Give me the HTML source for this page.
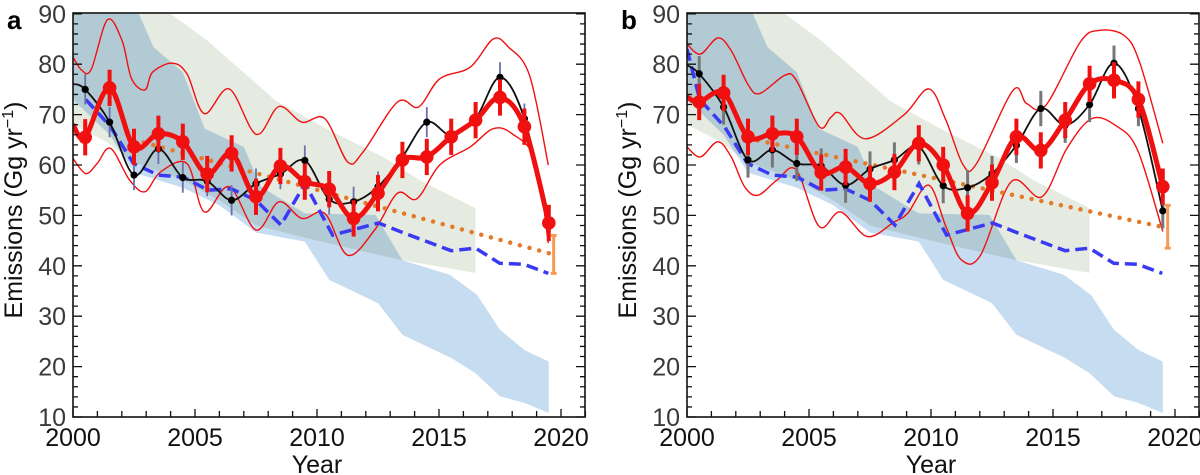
<!DOCTYPE html>
<html><head><meta charset="utf-8">
<style>
html,body{margin:0;padding:0;background:#fff;}
svg{display:block;font-family:"Liberation Sans",Arial,sans-serif;}
</style></head>
<body>
<svg id="chart" width="1200" height="475" viewBox="0 0 1200 475" xmlns="http://www.w3.org/2000/svg">
<defs>
<clipPath id="clipA"><rect x="73" y="13" width="512" height="404"/></clipPath>
<clipPath id="clipB"><rect x="687" y="13" width="512" height="404"/></clipPath>
</defs>
</svg>
<script>
// ---- shared data ----
const markerYears = [0.5,1.5,2.5,3.5,4.5,5.5,6.5,7.5,8.5,9.5,10.5,11.5,12.5,13.5,14.5,15.5,16.5,17.5,18.5,19.5];
const yTicks = [10,20,30,40,50,60,70,80,90];
const xTicks = [2000,2005,2010,2015,2020];
const blueDashYears = [0.52,1.54,2.48,3.5,4.52,5.54,6.48,7.5,8.52,9.51,10.64,12.52,13.62,15.5,16.5,17.49,18.48,19.48];
const blueDashVals  = [73,67.6,60.3,58,57.6,55,55.3,53,48.1,56.3,46.1,48.5,46.4,43,43.5,40.5,40.3,38.5];
const greenBandYears = [0,4.0,5.5,8.3,10.5,12.7,14.2,16.5,16.5,13.5,10,7.5,6,4.5,2.5,1.3,0];
const greenBandVals  = [90,90,84.7,72.8,66.9,61.6,57,51.4,38.6,41.1,45,48,53,57,60.5,64.8,68];
const blueBandYears = [0,2.7,3.3,4.5,5.4,7,7.7,9.5,12.4,13.5,15.45,16.56,17.5,18.5,19.5,19.5,18.5,17.5,16.5,15.5,13.5,12.5,10.5,9.5,7.5,6,4.5,2.5,1.5,0];
const blueBandVals  = [90,90,83.4,78.4,67.2,63.6,55.7,50.4,50.1,41.1,38.2,34.2,27.3,23.3,21,10.8,12.8,14.1,18.7,21.7,26.3,32.6,37.2,44.8,46.6,52,55.5,58.5,66,73];

// ---- panel a data ----
const aRedStart = 68;
const aRed = [65.5,75.3,63.6,66.2,64.6,58.2,62.3,53.7,59.8,56.7,55.2,49.4,54.4,61,61.6,65.6,68.9,73.4,67.6,48.5];
const aBlackStart = 76.1;
const aBlack = [75,68.5,58,63.2,57.5,56.8,53,56.3,58.2,60.9,53.2,52.7,55.7,61.6,68.5,65.9,69.2,77.4,69.2,48.5];
const aUpYears = [0,0.36,0.75,1.41,2.01,2.4,2.95,3.26,4.05,4.67,5.38,6.4,7.51,8.44,9.38,10.32,11.26,11.89,13.3,14.16,15.03,16.28,17.22,17.85,18.71,19.48];
const aUpVals  = [81.4,78.8,79,88.8,84.7,77.1,74.9,78.4,80.2,78.1,70.2,75.1,66.1,71.6,68.5,69.2,60.6,62.6,72.5,71.5,77.1,79.4,85,83.4,77.8,60];
const aLoYears = [0,0.52,0.99,1.54,2.32,2.95,3.58,4.67,5.38,6.4,7.5,8.44,9.38,10.32,11.26,12.36,13.3,14.09,15.03,16.28,17.22,18.0,18.95,19.48];
const aLoVals  = [61.3,58.3,60.3,63.3,57,54.7,58.6,60.3,50.7,55.7,47.1,52.7,49.4,50.4,42.1,47.1,54.4,53.3,60,63.6,67.2,66.2,60.9,44.5];
const aOrange = [[2.5,65],[19.5,42.5]];
const aOrangeErr = [19.7,38.5,46];

// ---- panel b data ----
const bRedStart = 73.5;
const bRed = [72.5,74.3,65.6,66.2,65.6,58.5,59.6,56.3,58.6,64.3,60,50.4,56.5,65.6,62.9,68.9,76.1,76.8,73,55.7];
const bBlackStart = 79.8;
const bBlack = [78.1,71.5,61,63,60.3,59.8,56,59.2,61,63.6,55.9,55.5,58.3,63.9,71.2,67.9,72,80.2,71.2,50.9];
const bUpYears = [0,0.55,1.26,1.81,2.52,2.99,4.01,4.48,5.42,5.9,6.29,7.31,8.88,9.91,10.61,11.32,11.87,13.36,13.92,14.7,16.12,16.9,17.92,18.55,19.5];
const bUpVals  = [84,82,85.2,82.7,75.8,74.2,77.8,76.8,67.6,69.5,70.2,65.2,69.9,75.1,68.9,60,60.3,74.8,72.2,71.8,84.4,86.7,85.7,80.4,64.3];
const bLoYears = [0,0.55,1.26,1.81,2.36,2.91,3.69,4.48,5.42,6.29,7.39,8.49,9.04,9.91,10.61,11.24,12.03,13.29,14.54,15.57,16.59,17.61,18.47,19.5];
const bLoVals  = [63.6,61.6,64.6,61.6,55.7,54,57,59,47.8,50.7,45.8,48.7,50.4,56,47.8,41.2,42.1,56.7,53.7,63.3,69.2,67.7,62.9,46.8];
const bOrange = [[2.5,65.3],[19.5,47.7]];
const bOrangeErr = [19.7,43.5,52];

const NS = "http://www.w3.org/2000/svg";
const svg = document.getElementById('chart');
function el(tag, attrs, parent){
  const e = document.createElementNS(NS, tag);
  for (const k in attrs) e.setAttribute(k, attrs[k]);
  (parent||svg).appendChild(e);
  return e;
}
function smooth(pts){
  let d = "M"+pts[0][0].toFixed(1)+","+pts[0][1].toFixed(1);
  for (let i=0;i<pts.length-1;i++){
    const p0=pts[Math.max(i-1,0)], p1=pts[i], p2=pts[i+1], p3=pts[Math.min(i+2,pts.length-1)];
    const c1x=p1[0]+(p2[0]-p0[0])/6, c1y=p1[1]+(p2[1]-p0[1])/6;
    const c2x=p2[0]-(p3[0]-p1[0])/6, c2y=p2[1]-(p3[1]-p1[1])/6;
    d+=" C"+c1x.toFixed(1)+","+c1y.toFixed(1)+" "+c2x.toFixed(1)+","+c2y.toFixed(1)+" "+p2[0].toFixed(1)+","+p2[1].toFixed(1);
  }
  return d;
}
function poly(pts){ return "M"+pts.map(p=>p[0].toFixed(1)+","+p[1].toFixed(1)).join(" L"); }

function panel(cfg){
  const x0 = cfg.x0, top = 13, bottom = 417, right = x0+512;
  const X = yr => x0 + yr*24.4;
  const Y = v => bottom - (v-10)*5.04;
  const g = el('g', {});
  
  
  const plot = el('g', {'clip-path':'url(#'+cfg.clip+')'}, g);
  
  

  const bb = el('path', {d: poly(blueBandYears.map((t,i)=>[X(t),Y(blueBandVals[i])]))+"Z", fill:'#c6dcf0'}, plot);
  
  
  const gb = el('path', {d: poly(greenBandYears.map((t,i)=>[X(t),Y(greenBandVals[i])]))+"Z", fill:'#e6ebe2', style:'mix-blend-mode:multiply'}, plot);
  
  

  const up = el('path', {d: smooth(cfg.upY.map((t,i)=>[X(t),Y(cfg.upV[i])])), fill:'none', stroke:'#f01010', 'stroke-width':1.4}, plot);
  
  
  const lo = el('path', {d: smooth(cfg.loY.map((t,i)=>[X(t),Y(cfg.loV[i])])), fill:'none', stroke:'#f01010', 'stroke-width':1.4}, plot);
  
  

  const od = el('path', {d: poly(cfg.orange.map(p=>[X(p[0]),Y(p[1])])), fill:'none', stroke:'#e5792a', 'stroke-width':4.5, 'stroke-linecap':'round', 'stroke-dasharray':'0 10'}, plot);
  
  

  const pre = cfg.blueStart ? cfg.blueStart.map(p=>[X(p[0]),Y(p[1])]) : [];
  const bd = el('path', {d: poly(pre.concat(blueDashYears.map((t,i)=>[X(t),Y(blueDashVals[i])]))), fill:'none', stroke:'#3a3af2', 'stroke-width':3.5, 'stroke-dasharray':'12 6'}, plot);
  
  

  const bpts = [[X(0),Y(cfg.blackStart)]].concat(markerYears.map((t,i)=>[X(t),Y(cfg.black[i])]));
  markerYears.forEach((t,i)=>{
    const e = el('line', {x1:X(t), x2:X(t), y1:Y(cfg.black[i]-cfg.bErr), y2:Y(cfg.black[i]+cfg.bErr), stroke:cfg.bErrColor, 'stroke-width':cfg.bErrW}, plot);
    
    
  });
  const bl = el('path', {d: smooth(bpts), fill:'none', stroke:'#111', 'stroke-width':1.8}, plot);
  
  
  markerYears.forEach((t,i)=>{
    const c = el('circle', {cx:X(t), cy:Y(cfg.black[i]), r:3.6, fill:'#000'}, plot);
    
    
  });

  const rpts = [[X(0),Y(cfg.redStart)]].concat(markerYears.map((t,i)=>[X(t),Y(cfg.red[i])]));
  const rl = el('path', {d: smooth(rpts), fill:'none', stroke:'#f01010', 'stroke-width':5, 'stroke-linejoin':'round'}, plot);
  
  
  markerYears.forEach((t,i)=>{
    const e = el('line', {x1:X(t), x2:X(t), y1:Y(cfg.red[i]-3.6), y2:Y(cfg.red[i]+3.6), stroke:'#f01010', 'stroke-width':4}, plot);
    
    
    const c = el('circle', {cx:X(t), cy:Y(cfg.red[i]), r:6.8, fill:'#f01010'}, plot);
    
    
  });

  const oe = cfg.orangeErr;
  const og = el('path', {d:"M"+(X(oe[0])-3)+","+Y(oe[1])+" h6 M"+X(oe[0])+","+Y(oe[1])+" V"+Y(oe[2])+" M"+(X(oe[0])-3)+","+Y(oe[2])+" h6", stroke:'#f49a55', 'stroke-width':3, fill:'none'}, g);
  
  

  const fr = el('rect', {x:x0, y:top, width:512, height:bottom-top, fill:'none', stroke:'#111', 'stroke-width':1.6}, g);
  
  

  let td = "";
  for (let v=10; v<=90; v+=2){
    const len = (v%10===0)?9:5;
    td += "M"+x0+","+Y(v)+" h"+len+" M"+right+","+Y(v)+" h-"+len+" ";
  }
  for (let yr=0; yr<=21; yr++){
    td += "M"+X(yr)+","+bottom+" v-"+((yr%5===0)?8:6)+" ";
  }
  const tk = el('path', {d:td, stroke:'#111', 'stroke-width':1.3, fill:'none'}, g);
  
  

  yTicks.forEach(v=>{
    const t = el('text', {x:x0-7, y:Y(v)+9, 'text-anchor':'end', 'font-size':25, fill:'#3a3a3a'}, g);
    t.textContent = v;
    
    
  });
  xTicks.forEach(yr=>{
    const t = el('text', {x:X(yr-2000), y:446, 'text-anchor':'middle', 'font-size':25, fill:'#111'}, g);
    t.textContent = yr;
    
    
  });
  const xt = el('text', {x:X(10), y:473, 'text-anchor':'middle', 'font-size':25, fill:'#111'}, g);
  xt.textContent = 'Year';
  
  
  const yt = el('text', {x:0, y:0, 'text-anchor':'middle', 'font-size':25, fill:'#111', transform:'translate('+(x0-51)+','+((top+bottom)/2-5)+') rotate(-90)'}, g);
  yt.innerHTML = 'Emissions (Gg yr<tspan dy="-9" font-size="16">−1</tspan><tspan dy="9">)</tspan>';
  
  
  const pl = el('text', {x:x0-66, y:29, 'font-size':26, 'font-weight':'bold', fill:'#000'}, g);
  pl.textContent = cfg.label;
  
  
}

panel({name:'panel-a', label:'a', x0:73, clip:'clipA', redStart:aRedStart, red:aRed, blackStart:aBlackStart, black:aBlack,
  upY:aUpYears, upV:aUpVals, loY:aLoYears, loV:aLoVals, orange:aOrange, orangeErr:aOrangeErr,
  bErr:3, bErrColor:'#6a70aa', bErrW:1.8, blueStart:null});
panel({name:'panel-b', label:'b', x0:687, clip:'clipB', redStart:bRedStart, red:bRed, blackStart:bBlackStart, black:bBlack,
  upY:bUpYears, upV:bUpVals, loY:bLoYears, loV:bLoVals, orange:bOrange, orangeErr:bOrangeErr,
  bErr:3.5, bErrColor:'#777', bErrW:3, blueStart:[[0,83]]});
</script>
</body></html>
